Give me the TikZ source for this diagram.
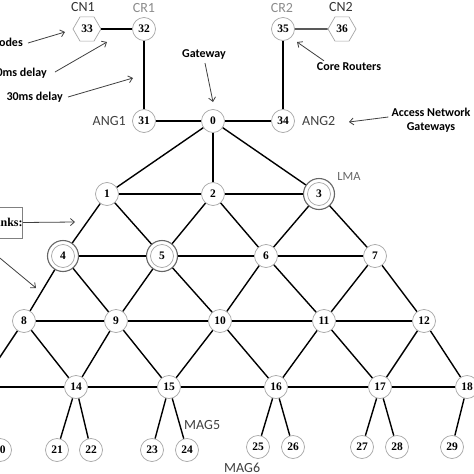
\documentclass[tikz,border=0pt]{standalone}
\usepackage{fontspec}
\setmainfont{Liberation Serif}
\newfontfamily\labfont{Carlito}
\usetikzlibrary{shapes.geometric,arrows.meta}
\begin{document}
\begin{tikzpicture}[x=1pt,y=-1pt,
  nd/.style={circle,draw=black!35,line width=0.7pt,fill=white,minimum size=23pt,inner sep=0pt,
    font=\fontsize{11.5}{12}\selectfont\bfseries},
  ringnd/.style={circle,draw=black!60,line width=1.1pt,fill=white,minimum size=31pt,inner sep=0pt,
    font=\fontsize{11.5}{12}\selectfont\bfseries},
  hexnd/.style={regular polygon,regular polygon sides=6,draw=black!35,line width=0.7pt,fill=white,
    minimum size=28pt,inner sep=0pt,font=\fontsize{11.5}{12}\selectfont\bfseries},
  link/.style={line width=1.4pt,black},
  callout/.style={line width=0.8pt,black!75,-{Straight Barb[length=4pt,width=7pt]}},
  biglab/.style={font=\labfont\fontsize{14}{16}\selectfont,inner sep=0pt},
  boldlab/.style={font=\labfont\bfseries\fontsize{12}{14}\selectfont,inner sep=0pt,align=center},
]
\clip (0,0) rectangle (474,474);
\fill[white] (0,0) rectangle (474,474);

% top part
\node[hexnd] (n33) at (87,29) {33};
\node[nd] (n32) at (144,29) {32};
\node[nd] (n35) at (283,29) {35};
\node[hexnd] (n36) at (342,29) {36};
\node[nd] (n31) at (144,121) {31};
\node[nd] (n0) at (213,121) {0};
\node[nd] (n34) at (283,121) {34};

% grid
\node[nd] (n1) at (107,194) {1};
\node[nd] (n2) at (213,194) {2};
\node[ringnd] (n3) at (319,194) {3};
\node[ringnd] (n4) at (63,256) {4};
\node[ringnd] (n5) at (162,256) {5};
\node[nd] (n6) at (266,256) {6};
\node[nd] (n7) at (375,256) {7};
\node[nd] (n8) at (24,321) {8};
\node[nd] (n9) at (116,321) {9};
\node[nd] (n10) at (220,321) {10};
\node[nd] (n11) at (324,321) {11};
\node[nd] (n12) at (424,321) {12};
\coordinate (n13) at (-20,387);
\node[nd] (n14) at (76,387) {14};
\node[nd] (n15) at (169,387) {15};
\node[nd] (n16) at (276,387) {16};
\node[nd] (n17) at (380,387) {17};
\node[nd] (n18) at (467,387) {18};
\node[nd] (n20) at (0,450) {20};
\node[nd] (n21) at (57,450) {21};
\node[nd] (n22) at (91,450) {22};
\node[nd] (n23) at (152,450) {23};
\node[nd] (n24) at (187,450) {24};
\node[nd] (n25) at (258,447) {25};
\node[nd] (n26) at (293,447) {26};
\node[nd] (n27) at (362,447) {27};
\node[nd] (n28) at (397,447) {28};
\node[nd] (n29) at (452,447) {29};

\foreach \n in {n3,n4,n5} \draw[black!35,line width=0.7pt] (\n.center) circle (11.5);

% links
\draw[link] (n33) -- (n32);
\draw[link] (n32) -- (n31);
\draw[link] (n31) -- (n0);
\draw[link] (n0) -- (n34);
\draw[link] (n34) -- (n35);
\draw[link] (n35) -- (n36);
\foreach \a/\b in {n0/n1,n0/n2,n0/n3,n1/n2,n2/n3,n1/n4,n1/n5,n2/n5,n2/n6,n3/n6,n3/n7,
  n4/n5,n5/n6,n6/n7,n4/n8,n4/n9,n5/n9,n5/n10,n6/n10,n6/n11,n7/n11,n7/n12,
  n8/n9,n9/n10,n10/n11,n11/n12,n8/n13,n8/n14,n9/n14,n9/n15,n10/n15,n10/n16,n11/n16,n11/n17,n12/n17,n12/n18,
  n13/n14,n14/n15,n15/n16,n16/n17,n17/n18,
  n13/n20,n14/n21,n14/n22,n15/n23,n15/n24,n16/n25,n16/n26,n17/n27,n17/n28,n18/n29}
  \draw[link] (\a) -- (\b);

% labels
\node[biglab,text=black!80] (cn1) at (83,7) {CN1};
\node[biglab,text=black!45] (cr1) at (144,8) {CR1};
\node[biglab,text=black!45] (cr2) at (282,8) {CR2};
\node[biglab,text=black!80] (cn2) at (341,7) {CN2};
\node[biglab,text=black!75,anchor=east] (ang1) at (126,121) {ANG1};
\node[biglab,text=black!75,anchor=west] (ang2) at (302,121) {ANG2};
\node[biglab,text=black!60,font=\labfont\fontsize{12.5}{14}\selectfont] (lma) at (349,176) {LMA};
\node[biglab,text=black!75,anchor=west] (mag5) at (184,425) {MAG5};
\node[biglab,text=black!75,anchor=west] (mag6) at (224,468) {MAG6};

\node[boldlab] (gw) at (204,55) {Gateway};
\node[boldlab] (cr) at (349,67) {Core Routers};
\node[boldlab] (ang) at (431,120) {Access Network\\Gateways};
\node[boldlab,anchor=east] (nodes) at (23,42) {Nodes};
\node[boldlab,anchor=east] (d10) at (47,73) {10ms delay};
\node[boldlab,anchor=east] (d30) at (63,97) {30ms delay};

\node[draw=black!50,line width=0.7pt,anchor=east,minimum height=31pt,inner sep=0pt,text width=80pt,align=right,
  font=\fontsize{12}{14}\selectfont\bfseries] (links) at (23,222.5) {Links:\hspace{7pt}};

\coordinate (t1) at (65,32);
\coordinate (t2) at (107,42);
\coordinate (t3) at (133,78);
\coordinate (t4) at (213,102);
\coordinate (t5) at (297,42);
\coordinate (t6) at (349,122);
\coordinate (t7) at (75,222);
\coordinate (s8) at (-5,254);
\coordinate (t8) at (36,288);

\draw[callout] (nodes.east) ++(5,1) -- (t1);
\draw[callout] (d10.east) ++(8,-1) -- (t2);
\draw[callout] (d30.east) ++(5,0) -- (t3);
\draw[callout] (gw.south) ++(1,3) -- (t4);
\draw[callout] (cr.north) ++(-25,-2) -- (t5);
\draw[callout] (ang.west) ++(-3,-3) -- (t6);
\draw[callout] (links.east) -- (t7);
\draw[callout] (s8) -- (t8);
\end{tikzpicture}
\end{document}
